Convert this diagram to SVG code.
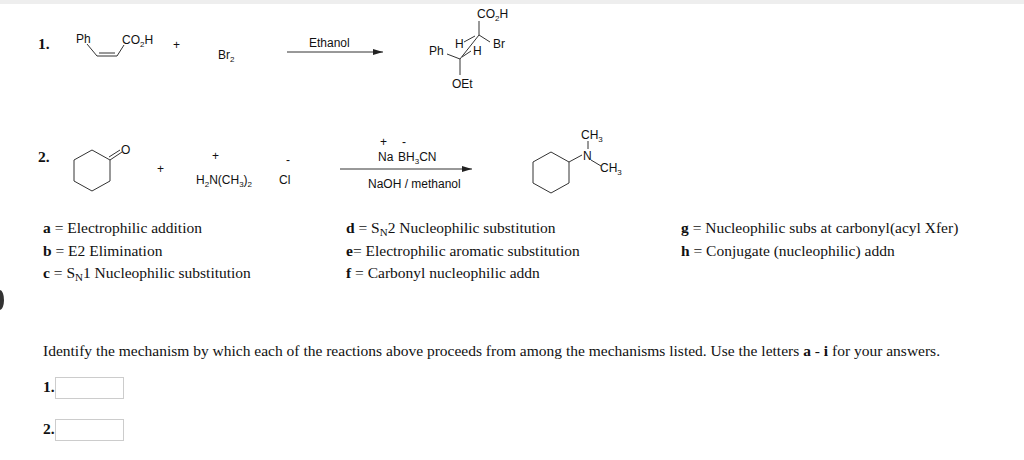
<svg xmlns="http://www.w3.org/2000/svg" width="1024" height="460" viewBox="0 0 1024 460">
<style>
.c{font-family:"Liberation Sans",Arial,sans-serif;font-size:12px;fill:#111}
.s{font-family:"Liberation Serif","Times New Roman",serif;font-size:15.5px;fill:#111}
.b{font-weight:bold}
.l{stroke:#333;stroke-width:1;fill:none}
</style>
<defs><marker id="ah" viewBox="0 0 10 6" refX="10" refY="3" markerWidth="10" markerHeight="6" orient="auto" markerUnits="userSpaceOnUse"><path d="M0,0L10,3L0,6z" fill="#222"/></marker></defs>
<rect x="0" y="0" width="1024" height="4" fill="#eee"/>
<ellipse cx="0" cy="300" rx="4" ry="10" fill="#333"/>
<g id="r1">
<text class="s b" x="38" y="49">1.</text>
<text class="c" x="76" y="43">Ph</text>
<path class="l" d="M87,44L97,56L117,56L124,45M99,53L115,53"/>
<text class="c" x="122" y="44">CO<tspan font-size="8" dy="3">2</tspan><tspan dy="-3">H</tspan></text>
<text class="c" x="173" y="49">+</text>
<text class="c" x="218" y="59">Br<tspan font-size="8" dy="3">2</tspan></text>
<text class="c" x="309" y="47">Ethanol</text>
<line class="l" x1="287" y1="52" x2="383" y2="52" marker-end="url(#ah)"/>
<text class="c" x="477" y="18">CO<tspan font-size="8" dy="3">2</tspan><tspan dy="-3">H</tspan></text>
<path class="l" d="M479,21L479,35L490,42M479,35L460,59M460,59L460,75M447,54L460,59M464,42L475,36M462,57L471,51"/>
<text class="c" x="493" y="48">Br</text>
<text class="c" x="429" y="55">Ph</text>
<text class="c" x="455" y="48">H</text>
<text class="c" x="473" y="55">H</text>
<text class="c" x="452" y="88">OEt</text>
</g>
<g id="r2">
<text class="s b" x="38" y="162">2.</text>
<path class="l" d="M92,150L110,160L110,181L92,191L74,181L74,160Z"/>
<path class="l" d="M110,160L122,152M109,157L120,150"/>
<text class="c" x="121" y="154">O</text>
<text class="c" x="157" y="173">+</text>
<text class="c" x="212" y="160" font-size="9">+</text>
<text class="c" x="196" y="184">H<tspan font-size="8" dy="3">2</tspan><tspan dy="-3">N(CH</tspan><tspan font-size="8" dy="3">3</tspan><tspan dy="-3">)</tspan><tspan font-size="8" dy="3">2</tspan></text>
<text class="c" x="279" y="184">Cl</text>
<text class="c" x="286" y="164">-</text>
<text class="c" x="380" y="146" font-size="9">+</text>
<text class="c" x="402" y="146" font-size="9">-</text>
<text class="c" x="378" y="161">Na</text>
<text class="c" x="398" y="161">BH<tspan font-size="8" dy="3">3</tspan><tspan dy="-3">CN</tspan></text>
<line class="l" x1="340" y1="169" x2="472" y2="169" marker-end="url(#ah)"/>
<text class="c" x="368" y="188">NaOH / methanol</text>
<path class="l" d="M551,152L569,162L569,183L551,193L533,183L533,162Z"/>
<path class="l" d="M569,162L582,155M588,141L588,149M591,160L601,166"/>
<text class="c" x="583" y="160">N</text>
<text class="c" x="581" y="139">CH<tspan font-size="8" dy="3">3</tspan></text>
<text class="c" x="600" y="172">CH<tspan font-size="8" dy="3">3</tspan></text>
</g>
<g id="legend">
<text class="s" x="43" y="233"><tspan class="b">a</tspan> = Electrophilic addition</text>
<text class="s" x="43" y="256"><tspan class="b">b</tspan> = E2 Elimination</text>
<text class="s" x="43" y="278"><tspan class="b">c</tspan> = S<tspan font-size="11" dy="3">N</tspan><tspan dy="-3">1 Nucleophilic substitution</tspan></text>
<text class="s" x="346" y="233"><tspan class="b">d</tspan> = S<tspan font-size="11" dy="3">N</tspan><tspan dy="-3">2 Nucleophilic substitution</tspan></text>
<text class="s" x="346" y="256"><tspan class="b">e</tspan>= Electrophilic aromatic substitution</text>
<text class="s" x="346" y="278"><tspan class="b">f</tspan> = Carbonyl nucleophilic addn</text>
<text class="s" x="681" y="233"><tspan class="b">g</tspan> = Nucleophilic subs at carbonyl(acyl Xfer)</text>
<text class="s" x="681" y="256"><tspan class="b">h</tspan> = Conjugate (nucleophilic) addn</text>
</g>
<g id="question">
<text class="s" x="43" y="356">Identify the mechanism by which each of the reactions above proceeds from among the mechanisms listed. Use the letters <tspan class="b">a</tspan> - <tspan class="b">i</tspan> for your answers.</text>
<text class="s b" x="43" y="392">1.</text>
<rect x="55.5" y="377.5" width="68" height="21" fill="#fff" stroke="#ccc"/>
<text class="s b" x="43" y="434">2.</text>
<rect x="55.5" y="419.5" width="68" height="21" fill="#fff" stroke="#ccc"/>
</g>
</svg>
